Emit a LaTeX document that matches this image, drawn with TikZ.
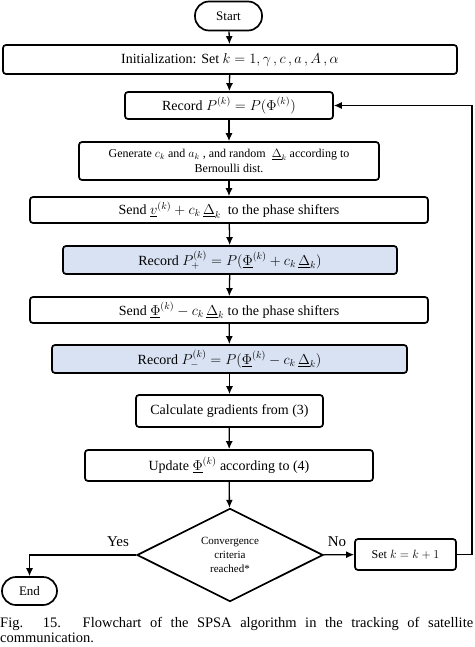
\documentclass[tikz,border=0pt]{standalone}
\usepackage{amsmath}
\usepackage{fontspec}
\setmainfont{Liberation Serif}
\usetikzlibrary{shapes.geometric,arrows.meta}
\definecolor{boxblue}{RGB}{217,226,243}

\begin{document}
\begin{tikzpicture}[x=1pt,y=-1pt,
        blk/.style={draw,line width=1.7pt,rounded corners=3pt,inner sep=0pt,align=center,font=\fontsize{14}{16}\selectfont},
        hl/.style={blk,fill=boxblue},
        term/.style={draw,line width=1.7pt,rounded corners=14pt,inner sep=0pt,font=\fontsize{13}{15}\selectfont},
        arr/.style={-{Latex[length=8pt,width=7pt]},line width=1.3pt}]
        \useasboundingbox (0,0) rectangle (474,647);
        % terminals
        \node[term,minimum width=67pt,minimum height=29pt] (start) at (228.5,16){Start};
        \node[term,minimum width=55pt,minimum height=28pt] (endn) at (29.5,591){End};
        % boxes
        \node[blk,minimum width=454pt,minimum height=29pt] (init) at (230,59.5){Initialization: Set $k=1,\gamma\,,c\,,a\,,A\,,\alpha$};
        \node[blk,minimum width=208pt,minimum height=27pt] (rec) at (229,105.5){Record $P^{(k)}=P(\Phi^{(k)})$};
        \node[blk,minimum width=300pt,minimum height=38pt,font=\fontsize{12}{15}\selectfont] (gen) at (229,161){Generate $c_k$ and $a_k$ , and random\ \ $\underline{\Delta}_k$ according to\\ Bernoulli dist.};
        \node[blk,minimum width=398pt,minimum height=26pt] (sendp) at (229,210){Send $\underline{v}^{(k)}+c_k\,\underline{\Delta}_k$\ \ to the phase shifters};
        \node[hl,minimum width=334pt,minimum height=28pt] (recp) at (230,260){Record $P_+^{(k)}=P(\underline{\Phi}^{(k)}+c_k\,\underline{\Delta}_k)$};
        \node[blk,minimum width=398pt,minimum height=26pt] (sendm) at (229,310){Send $\underline{\Phi}^{(k)}-c_k\,\underline{\Delta}_k$ to the phase shifters};
        \node[hl,minimum width=355pt,minimum height=28pt] (recm) at (229.5,359){Record $P_-^{(k)}=P(\underline{\Phi}^{(k)}-c_k\,\underline{\Delta}_k)$};
        \node[blk,minimum width=187pt,minimum height=32pt] (calc) at (229.5,411){Calculate gradients from (3)};
        \node[blk,minimum width=288pt,minimum height=31pt] (upd) at (229,465.5){Update $\underline{\Phi}^{(k)}$ according to (4)};
        \node[draw,diamond,line width=1.7pt,inner sep=0pt,minimum width=186pt,minimum height=84pt,align=center,font=\fontsize{11}{14}\selectfont] (conv) at (230,555){Convergence\\ criteria\\ reached*};
        \node[blk,minimum width=101pt,minimum height=31pt,font=\fontsize{12}{14}\selectfont] (setk) at (405.5,554.5){Set $k=k+1$};
        % labels
        \node[font=\fontsize{15}{17}\selectfont] (yes) at (118,542){Yes};
        \node[font=\fontsize{15}{17}\selectfont] (no) at (337,542){No};
        % connectors
        \draw[arr] (start) -- (init);
        \draw[arr] (init) -- (rec);
        \draw[arr] (rec) -- (gen);
        \draw[arr] (gen) -- (sendp);
        \draw[arr] (sendp) -- (recp);
        \draw[arr] (recp) -- (sendm);
        \draw[arr] (sendm) -- (recm);
        \draw[arr] (recm) -- (calc);
        \draw[arr] (calc) -- (upd);
        \draw[arr] (upd) -- (conv);
        \draw[arr] (conv) -- (setk);
        \draw[arr] (conv.west) -| (endn.north);
        \draw[arr] (setk.east) -- ++(15,0) |- (rec.east);
        % caption
        \node[anchor=north west,inner sep=0pt,text width=473pt,align=justify,font=\fontsize{14.5}{15.5}\selectfont] (cap) at (0,617){Fig. 15.\hspace{1.5em}Flowchart of the SPSA algorithm in the tracking of satellite\linebreak communication.};
\end{tikzpicture}
\end{document}
